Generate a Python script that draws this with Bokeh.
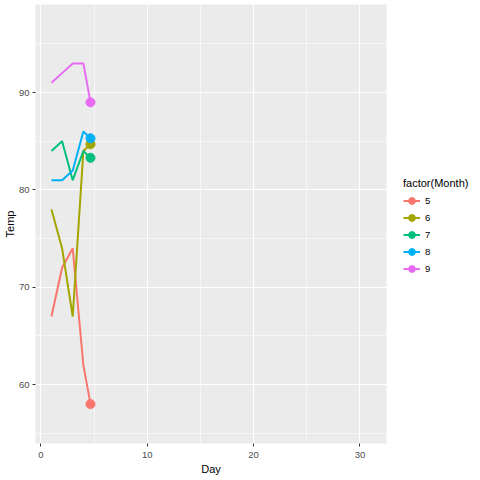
from bokeh.plotting import figure
from bokeh.models import Legend, LegendItem, Range1d, SingleIntervalTicker
from bokeh.embed import file_html
from bokeh.resources import INLINE

# ---- data ----
months = ["5", "6", "7", "8", "9"]
colors = ["#F8766D", "#A3A500", "#00BF7D", "#00B0F6", "#E76BF3"]
days = [1, 2, 3, 4]
reveal_day = 4.67
temp_5 = [67, 72, 74, 62]
temp_6 = [78, 74, 67, 84]
temp_7 = [84, 85, 81, 84]
temp_8 = [81, 81, 82, 86]
temp_9 = [91, 92, 93, 93]
end_temp = [58, 84.7, 83.3, 85.3, 89]

series = [temp_5, temp_6, temp_7, temp_8, temp_9]

FONT = "Liberation Sans"
FH = 439

p = figure(frame_width=351, frame_height=FH, output_backend="svg", toolbar_location=None,
           x_range=Range1d(-0.5, 32.5), y_range=Range1d(53.95, 99.05),
           background_fill_color="#EBEBEB", border_fill_color="white",
           min_border_top=4, min_border_left=0, min_border_bottom=0,
           min_border_right=88, outline_line_color=None)

p.xaxis.ticker = SingleIntervalTicker(interval=10, num_minor_ticks=2)
p.yaxis.ticker = SingleIntervalTicker(interval=10, num_minor_ticks=2)
for ax in (p.xaxis, p.yaxis):
    ax.axis_line_color = None
    ax.major_tick_line_color = "#333333"
    ax.major_tick_in = 0
    ax.major_tick_out = 3
    ax.minor_tick_line_color = None
    ax.major_label_text_font = FONT
    ax.major_label_text_font_size = "9.5px"
    ax.major_label_text_color = "#4D4D4D"
    ax.major_label_standoff = 2
    ax.axis_label_text_font = FONT
    ax.axis_label_text_font_size = "11px"
    ax.axis_label_text_font_style = "normal"
    ax.axis_label_text_color = "black"
    ax.axis_label_standoff = 0
p.xaxis.major_label_standoff = 4
p.xaxis.axis_label_standoff = 2
p.xaxis.axis_label = "Day"
p.yaxis.axis_label = "Temp"

for g in (p.xgrid, p.ygrid):
    g.grid_line_color = "white"
    g.grid_line_width = 1.1
    g.minor_grid_line_color = "white"
    g.minor_grid_line_width = 0.55

bg = p.quad(left=[], right=[], top=[], bottom=[], fill_color="#F2F2F2", line_color="white")

line_rs = []
for m, col, t, e in zip(months, colors, series, end_temp):
    r = p.line(days + [reveal_day], t + [e], line_color=col, line_width=2)
    line_rs.append(r)
pt_rs = []
for m, col, e in zip(months, colors, end_temp):
    r = p.scatter([reveal_day], [e], size=9, fill_color=col, line_color=col)
    pt_rs.append(r)

items = [LegendItem(label=m, renderers=[bg, lr, pr])
         for m, lr, pr in zip(months, line_rs, pt_rs)]
legend = Legend(items=items, title="factor(Month)",
                location=(17, FH - 171 - 102),
                title_text_font=FONT, title_text_font_size="11px",
                title_text_font_style="normal",
                title_text_color="black", title_standoff=3,
                label_text_font=FONT, label_text_font_size="9.5px",
                label_text_color="black",
                glyph_width=17, glyph_height=17, label_height=17,
                label_standoff=5, spacing=0, padding=0,
                margin=0,
                background_fill_alpha=0, border_line_color=None)
p.add_layout(legend, "right")

open("out.html", "w").write(file_html(p, INLINE))
